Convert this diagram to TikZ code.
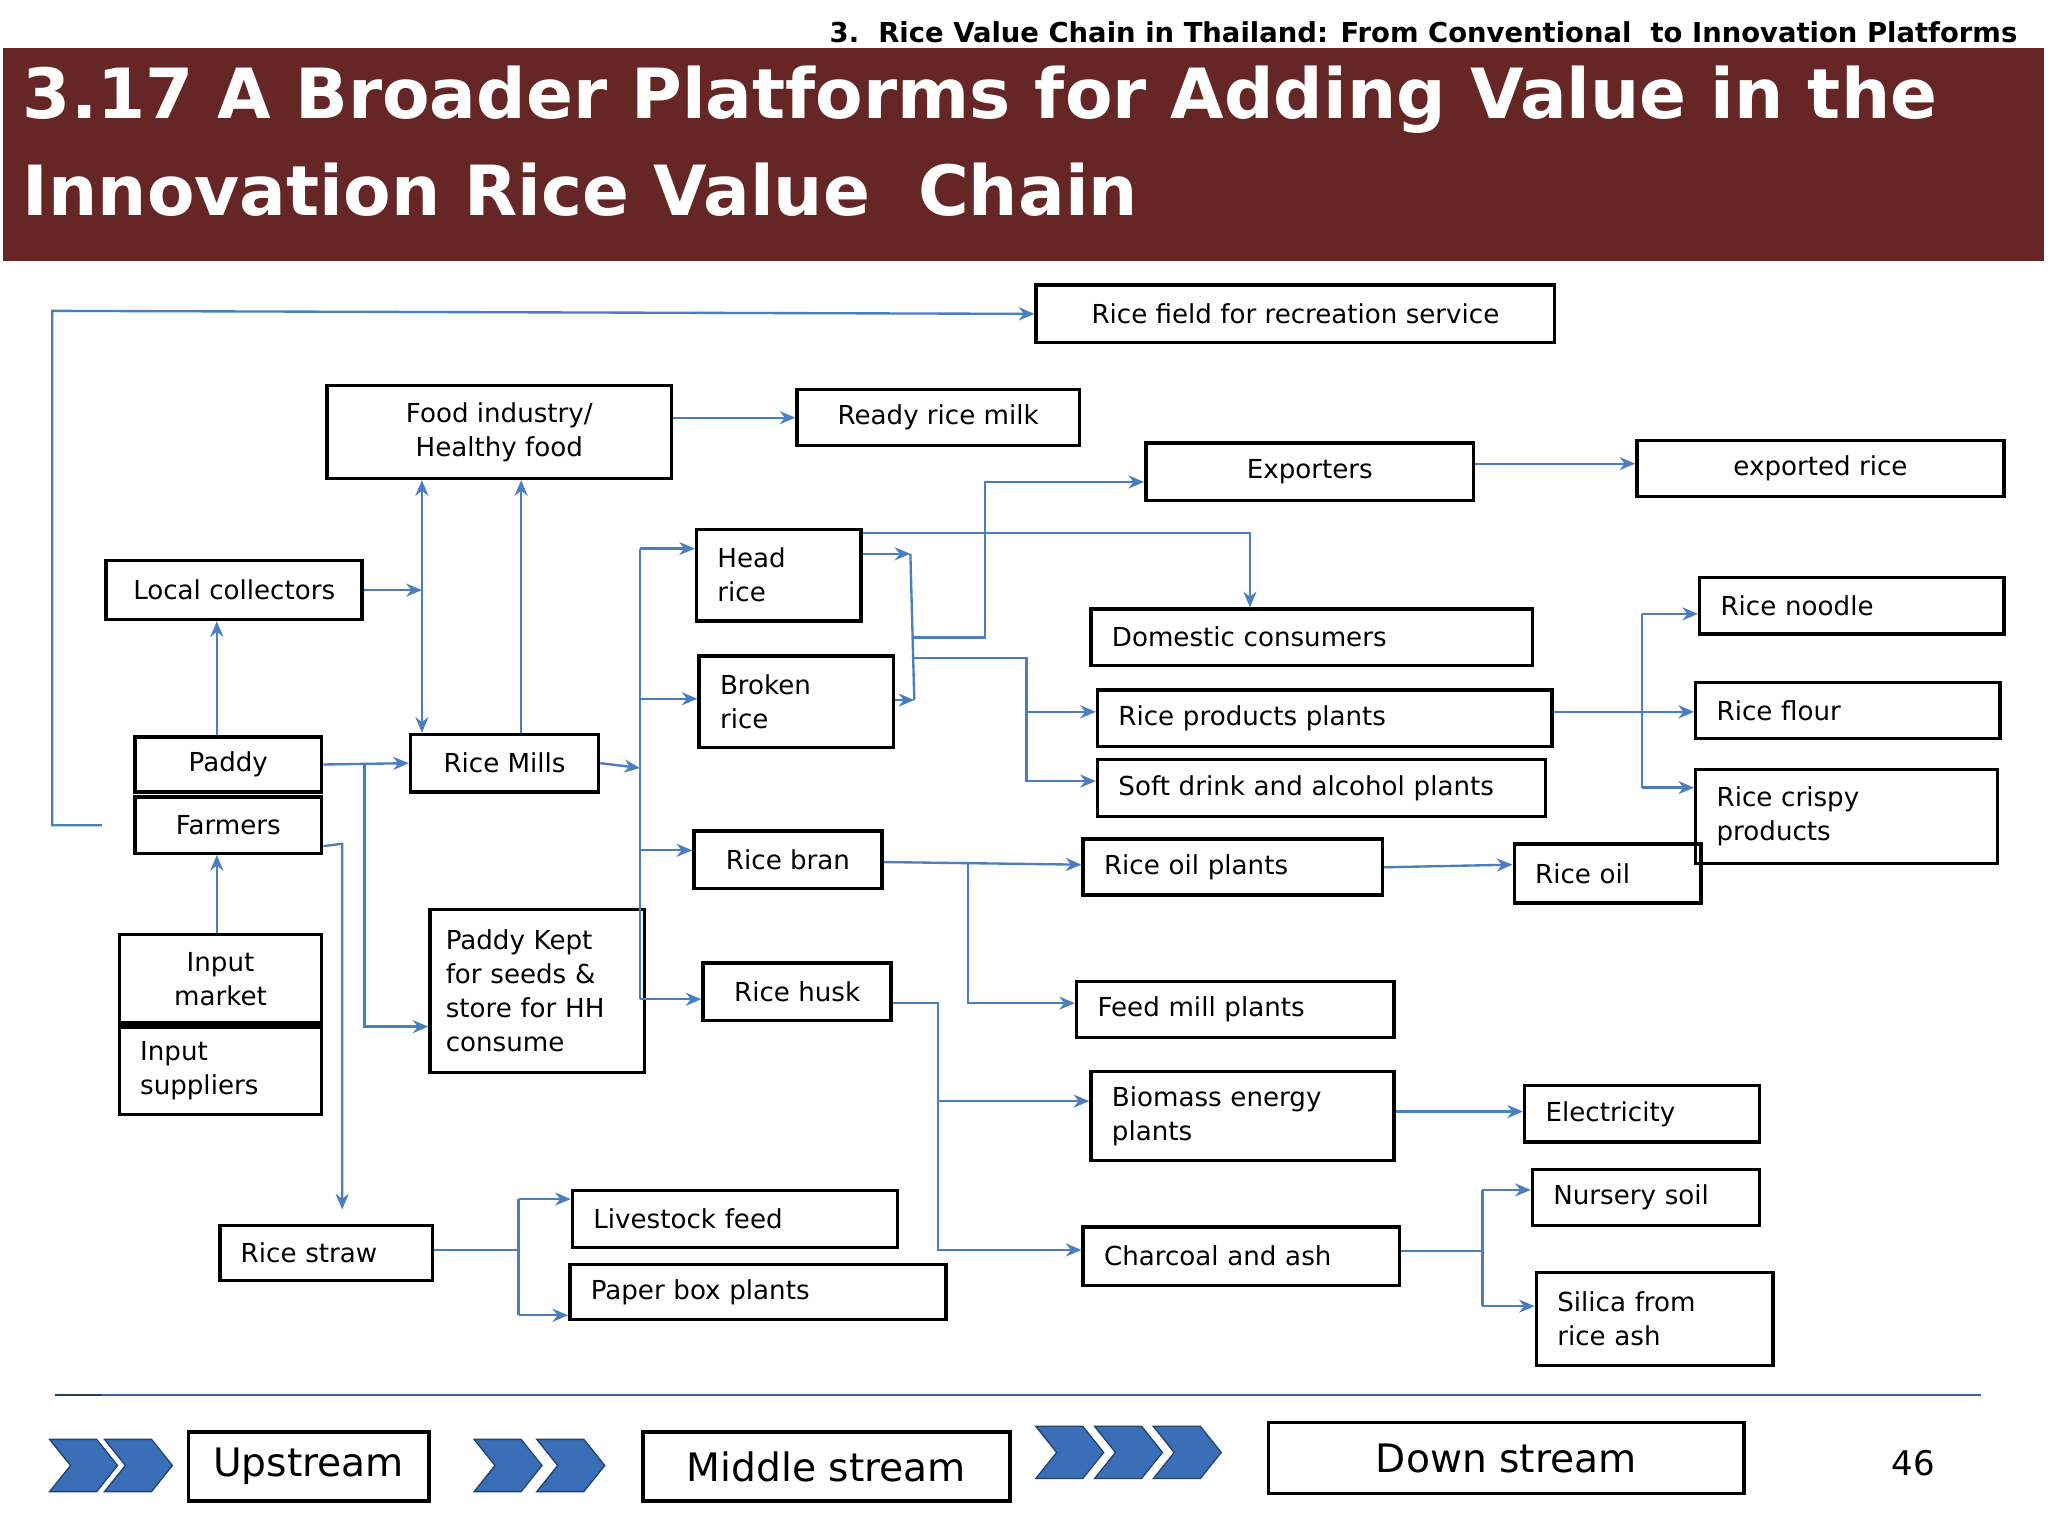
\documentclass[tikz,border=0pt]{standalone}
\usepackage{fontspec}
\setmainfont{DejaVu Sans}
\usetikzlibrary{positioning,arrows.meta}
\definecolor{band}{HTML}{662626}
\definecolor{flow}{HTML}{4A7EBF}
\definecolor{chev}{HTML}{3A6FB8}
\tikzset{
x=1pt,y=-1pt,
box/.style={draw,line width=2.6pt,anchor=north west,inner sep=0pt,font=\fontsize{20}{26}\selectfont},
lbox/.style={box,align=left,inner xsep=16pt},
flow/.style={draw=flow,line width=1.8pt,-{Stealth[length=12pt,width=10pt]}},
link/.style={draw=flow,line width=1.8pt},
stream/.style={draw,line width=2.6pt,anchor=north west,font=\fontsize{30}{36}\selectfont},
chevron/.style={fill=chev,draw=chev!60!black,line width=1pt},
}
\newcommand{\chevrons}[4]{% x, y, count, step
  \foreach \k in {1,...,#3}{
    \pgfmathsetmacro{\cx}{#1+(\k-1)*#4}
    \path[chevron] (\cx,#2) -- ++(36,0) -- ++(16,20) -- ++(-16,20) -- ++(-36,0) -- ++(16,-20) -- cycle;
  }}
\begin{document}
\begin{tikzpicture}
\useasboundingbox (0,0) rectangle (1568,1176);
% heading
\node[anchor=east,font=\bfseries\fontsize{21}{26}\selectfont] (sub) at (1548,25)
  {3.\ \ Rice Value Chain in Thailand: From Conventional\ \ to Innovation Platforms};
\fill[band] (2,37) rectangle (1565,200);
\node[anchor=north west,align=left,text=white,font=\bfseries\fontsize{53}{74}\selectfont] (title) at (14,47)
  {3.17 A Broader Platforms for Adding Value in the\\Innovation Rice Value\ \ Chain};

% boxes
\node[box,minimum width=397,minimum height=44] (field) at (792,217) {Rice field for recreation service};
\node[box,minimum width=264,minimum height=71,align=center] (food) at (249,294) {Food industry/\\Healthy food};
\node[box,minimum width=216,minimum height=43] (milk) at (609,297) {Ready rice milk};
\node[box,minimum width=251,minimum height=44] (exp) at (876,338) {Exporters};
\node[box,minimum width=281,minimum height=43] (expr) at (1252,336) {exported rice};
\node[lbox,text width=94,minimum height=70] (head) at (532,404) {Head\\rice};
\node[box,minimum width=196,minimum height=45] (local) at (80,428) {Local collectors};
\node[lbox,text width=306,minimum height=43] (dom) at (834,465) {Domestic consumers};
\node[lbox,text width=201,minimum height=43] (noodle) at (1300,441) {Rice noodle};
\node[lbox,text width=117,minimum height=70] (broken) at (534,501) {Broken\\rice};
\node[lbox,text width=316,minimum height=43] (prod) at (839,527) {Rice products plants};
\node[lbox,text width=201,minimum height=43] (flour) at (1297,521) {Rice flour};
\node[box,minimum width=143,minimum height=42] (paddy) at (102,563) {Paddy};
\node[box,minimum width=143,minimum height=43] (farm) at (102,609) {Farmers};
\node[box,minimum width=144,minimum height=44] (mills) at (313,561) {Rice Mills};
\node[lbox,text width=311,minimum height=44] (soft) at (839,580) {Soft drink and alcohol plants};
\node[lbox,text width=199,minimum height=72] (crispy) at (1297,588) {Rice crispy\\products};
\node[box,minimum width=144,minimum height=44] (bran) at (530,635) {Rice bran};
\node[lbox,text width=197,minimum height=43] (oilp) at (828,641) {Rice oil plants};
\node[lbox,text width=111,minimum height=45] (oil) at (1158,645) {Rice oil};
\node[lbox,text width=140,minimum height=125,inner xsep=12pt] (kept) at (328,695) {Paddy Kept\\for seeds \&\\store for HH\\consume};
\node[box,minimum width=155,minimum height=68,align=center] (inmk) at (90,714) {Input\\market};
\node[lbox,text width=123,minimum height=67] (insup) at (90,785) {Input\\suppliers};
\node[box,minimum width=144,minimum height=44] (husk) at (537,736) {Rice husk};
\node[lbox,text width=211,minimum height=43] (feed) at (823,750) {Feed mill plants};
\node[lbox,text width=200,minimum height=68] (bio) at (834,819) {Biomass energy\\plants};
\node[lbox,text width=148,minimum height=43] (elec) at (1166,830) {Electricity};
\node[lbox,text width=142,minimum height=43] (nurs) at (1172,894) {Nursery soil};
\node[lbox,text width=217,minimum height=44] (live) at (437,910) {Livestock feed};
\node[lbox,text width=131,minimum height=42] (straw) at (167,937) {Rice straw};
\node[lbox,text width=210,minimum height=45] (char) at (828,938) {Charcoal and ash};
\node[lbox,text width=256,minimum height=42] (paper) at (435,967) {Paper box plants};
\node[lbox,text width=149,minimum height=71] (silica) at (1175,973) {Silica from\\rice ash};

% connectors
\coordinate (tl) at (40,238);
\draw[flow] (farm.west) ++(-24,0) coordinate (fw) -- (fw -| tl) -- (tl) -- (field.west);
\draw[flow] (food.east |- milk) -- (milk.west);
\draw[flow] (local.east) -- (local.east -| 323,0);
\draw[flow,{Stealth[length=12pt,width=10pt]}-{Stealth[length=12pt,width=10pt]}] (food.south -| 323,0) -- (mills.north -| 323,0);
\draw[flow] (mills.north -| 399,0) -- (food.south -| 399,0);
\draw[flow] (paddy.north -| 166,0) -- (local.south -| 166,0);
\draw[flow] (paddy.east) -- (mills.west);
\draw[flow] (279,584) -- (279,786) -- (kept.west |- 0,786);
\draw[flow] (farm.east) ++(0,16) -- (262,646) -- (262,926);
\draw[flow] (inmk.north -| 166,0) -- (farm.south -| 166,0);
\draw[flow] (mills.east) -- (490,588);
\draw[link] (490,420) -- (490,765);
\draw[flow] (490,420) -- (head.west |- 0,420);
\draw[flow] (490,535) -- (broken.west |- 0,535);
\draw[flow] (490,651) -- (bran.west |- 0,651);
\draw[flow] (490,765) -- (husk.west |- 0,765);
\draw[flow] (head.east |- 0,424) -- (697,424);
\draw[flow] (head.north east) ++(0,4) -- (957,408) -- (dom.north -| 957,0);
\draw[flow] (broken.east |- 0,536) -- (700,536);
\draw[link] (697,424) -- (700,536);
\draw[flow] (700,488) -- (754,488) -- (754,369) -- (exp.west |- 0,369);
\draw[flow] (700,504) -- (786,504) -- (786,598) -- (soft.west |- 0,598);
\draw[flow] (786,545) -- (prod.west |- 0,545);
\draw[flow] (exp.east |- 0,355) -- (expr.west |- 0,355);
\draw[flow] (prod.east |- 0,545) -- (flour.west |- 0,545);
\draw[link] (1257,470) -- (1257,603);
\draw[flow] (1257,470) -- (noodle.west |- 0,470);
\draw[flow] (1257,603) -- (crispy.west |- 0,603);
\draw[flow] (bran.east |- 0,660) -- (oilp.west |- 0,662);
\draw[flow] (741,661) -- (741,768) -- (feed.west |- 0,768);
\draw[flow] (oilp.east |- 0,664) -- (oil.west |- 0,662);
\draw[flow] (husk.east |- 0,768) -- (718,768) -- (718,957) -- (char.west |- 0,957);
\draw[flow] (718,843) -- (bio.west |- 0,843);
\draw[flow] (bio.east |- 0,851) -- (elec.west |- 0,851);
\draw[link] (char.east |- 0,958) -- (1135,958);
\draw[link] (1135,911) -- (1135,1000);
\draw[flow] (1135,911) -- (nurs.west |- 0,911);
\draw[flow] (1135,1000) -- (silica.west |- 0,1000);
\draw[link] (straw.east |- 0,957) -- (397,957);
\draw[link] (397,918) -- (397,1007);
\draw[flow] (397,918) -- (live.west |- 0,918);
\draw[flow] (397,1007) -- (paper.west |- 0,1007);

% stream bar
\draw[flow!80!black,line width=1.5pt,-] (42,1068) -- (1517,1068);
\draw[line width=2pt,draw=flow!50!black] (42,1068) -- (78,1068);
\chevrons{38}{1102}{2}{42}
\chevrons{363}{1102}{2}{48}
\chevrons{793}{1092}{3}{45}
\node[stream,minimum width=184,minimum height=53] (up) at (143,1095) {Upstream};
\node[stream,minimum width=281,minimum height=53] (mid) at (491,1095) {Middle stream};
\node[stream,minimum width=364,minimum height=54] (down) at (970,1088) {Down stream};
\node[font=\fontsize{26}{30}\selectfont] (page) at (1465,1120) {46};
\end{tikzpicture}
\end{document}
